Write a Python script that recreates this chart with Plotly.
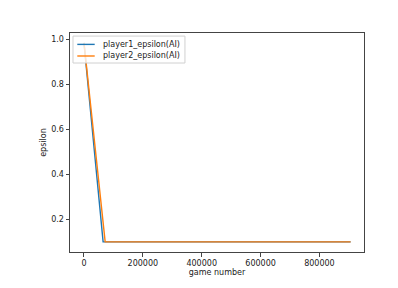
import plotly.graph_objects as go

# Data
p1_games = [0, 16000, 32000, 48000, 65000, 906000]
p1_eps = [0.983, 0.765, 0.545, 0.325, 0.1, 0.1]
p2_games = [0, 18000, 36000, 54000, 72000, 906000]
p2_eps = [0.983, 0.763, 0.543, 0.322, 0.1, 0.1]
series_names = ["player1_epsilon(AI)", "player2_epsilon(AI)"]
series_colors = ["#1f77b4", "#ff7f0e"]

x_ticks = [0, 200000, 400000, 600000, 800000]
y_ticks = [0.2, 0.4, 0.6, 0.8, 1.0]

font_family = "DejaVu Sans"
fs = 8
fig = go.Figure()
for xs, ys, name, color in zip([p1_games, p2_games], [p1_eps, p2_eps], series_names, series_colors):
    fig.add_trace(go.Scatter(x=xs, y=ys, mode="lines", name=name,
                             line=dict(color=color, width=1.4)))

axis_common = dict(showline=True, linecolor="#444", linewidth=1, mirror=True,
                   ticks="outside", ticklen=3.5, tickwidth=1, tickcolor="#444",
                   showgrid=False, zeroline=False,
                   tickfont=dict(family=font_family, size=fs, color="#222"))

# custom matplotlib-like legend
shapes = [dict(type="rect", xref="paper", yref="paper", x0=0.0102, x1=0.391, y0=0.863, y1=0.986,
               line=dict(color="#d0d0d0", width=1), fillcolor="rgba(255,255,255,0.8)", layer="above")]
annotations = []
row_y = [0.948, 0.895]
for name, color, ry in zip(series_names, series_colors, row_y):
    shapes.append(dict(type="line", xref="paper", yref="paper", x0=0.0248, x1=0.084, y0=ry, y1=ry,
                       line=dict(color=color, width=1.4), layer="above"))
    annotations.append(dict(xref="paper", yref="paper", x=0.1044, y=ry, text=name, showarrow=False,
                            xanchor="left", yanchor="middle",
                            font=dict(family=font_family, size=fs, color="#222")))

fig.update_layout(
    width=398, height=288,
    margin=dict(l=70, r=34, t=33, b=36),
    paper_bgcolor="white", plot_bgcolor="white",
    font=dict(family=font_family, size=fs, color="#222"),
    xaxis=dict(range=[-47500, 951500], tickvals=x_ticks, tickformat="d",
               title=dict(text="game number", font=dict(size=fs), standoff=2),
               **axis_common),
    yaxis=dict(range=[0.055, 1.027], tickvals=y_ticks, tickformat=".1f",
               title=dict(text="epsilon", font=dict(size=fs), standoff=3),
               **axis_common),
    shapes=shapes,
    annotations=annotations,
    showlegend=False,
)

fig.write_html("out.html")
